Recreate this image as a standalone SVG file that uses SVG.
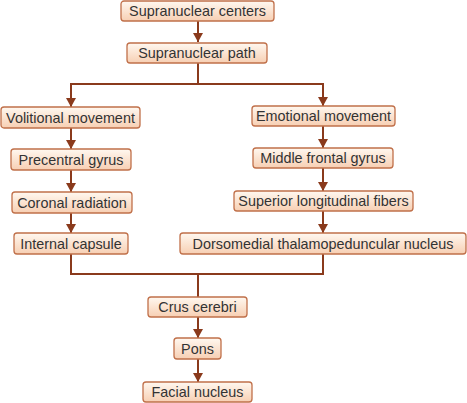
<svg xmlns="http://www.w3.org/2000/svg" width="467" height="403" viewBox="0 0 467 403">
<defs>
<linearGradient id="g" x1="0" y1="0" x2="0" y2="1">
<stop offset="0" stop-color="#fff8f0"/>
<stop offset="1" stop-color="#f7cfb3"/>
</linearGradient>
<marker id="ah" markerWidth="10" markerHeight="10" viewBox="0 0 9 10" refX="9" refY="5" orient="auto" markerUnits="userSpaceOnUse">
<path d="M0,0 L9,5 L0,10 Z" fill="#8a3a1c"/>
</marker>
</defs>
<style>
.box{fill:url(#g);stroke:#c0704a;stroke-width:1.3}
.t{font-family:"Liberation Sans",Arial,sans-serif;font-size:14.4px;fill:#333;text-anchor:middle}
.c{fill:none;stroke:#8a3a1c;stroke-width:2}
</style>
<rect width="467" height="403" fill="#fff"/>
<g id="connectors">
<path class="c" d="M198,21 V42" marker-end="url(#ah)"/>
<path class="c" d="M198,63 V84 H71 V107" marker-end="url(#ah)"/>
<path class="c" d="M198,84 H323 V106" marker-end="url(#ah)"/>
<path class="c" d="M71,128 V149" marker-end="url(#ah)"/>
<path class="c" d="M71,170 V192" marker-end="url(#ah)"/>
<path class="c" d="M71,213 V233" marker-end="url(#ah)"/>
<path class="c" d="M323,126 V148" marker-end="url(#ah)"/>
<path class="c" d="M323,168 V191" marker-end="url(#ah)"/>
<path class="c" d="M323,211 V233" marker-end="url(#ah)"/>
<path class="c" d="M71,254 V274 H323 V254"/>
<path class="c" d="M198,274 V297"/>
<path class="c" d="M198,317 V338" marker-end="url(#ah)"/>
<path class="c" d="M198,359 V382" marker-end="url(#ah)"/>
</g>
<g id="n1"><rect class="box" x="121" y="1" width="153" height="20" rx="3"/><text class="t" x="197.5" y="16">Supranuclear centers</text></g>
<g id="n2"><rect class="box" x="127" y="43" width="140" height="20" rx="3"/><text class="t" x="197" y="58">Supranuclear path</text></g>
<g id="n3"><rect class="box" x="1" y="107" width="139" height="21" rx="3"/><text class="t" x="70.5" y="122.5">Volitional movement</text></g>
<g id="n4"><rect class="box" x="11" y="149" width="120" height="21" rx="3"/><text class="t" x="71" y="164.5">Precentral gyrus</text></g>
<g id="n5"><rect class="box" x="12" y="192" width="120" height="21" rx="3"/><text class="t" x="72" y="207.5">Coronal radiation</text></g>
<g id="n6"><rect class="box" x="14" y="233" width="114" height="21" rx="3"/><text class="t" x="71" y="248.5">Internal capsule</text></g>
<g id="n7"><rect class="box" x="252" y="106" width="143" height="20" rx="3"/><text class="t" x="323.5" y="121">Emotional movement</text></g>
<g id="n8"><rect class="box" x="253" y="148" width="140" height="20" rx="3"/><text class="t" x="323" y="163">Middle frontal gyrus</text></g>
<g id="n9"><rect class="box" x="234" y="191" width="179" height="20" rx="3"/><text class="t" x="323.5" y="206">Superior longitudinal fibers</text></g>
<g id="n10"><rect class="box" x="180" y="233" width="286" height="21" rx="3"/><text class="t" x="323" y="248.5">Dorsomedial thalamopeduncular nucleus</text></g>
<g id="n11"><rect class="box" x="148" y="297" width="99" height="20" rx="3"/><text class="t" x="197.5" y="312">Crus cerebri</text></g>
<g id="n12"><rect class="box" x="174" y="338" width="47" height="21" rx="3"/><text class="t" x="197.5" y="353.5">Pons</text></g>
<g id="n13"><rect class="box" x="143" y="382" width="109" height="20" rx="3"/><text class="t" x="197.5" y="397">Facial nucleus</text></g>
</svg>
